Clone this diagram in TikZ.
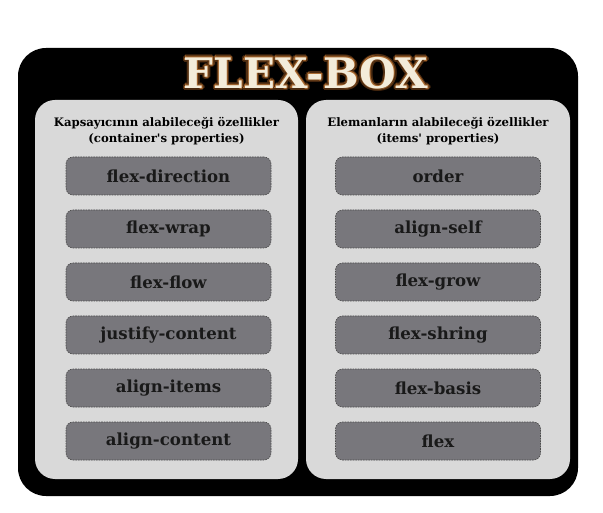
\documentclass[tikz,border=0pt]{standalone}
\usepackage{fontspec}
\setmainfont{DejaVu Serif}
\usetikzlibrary{positioning}

\definecolor{panelgray}{HTML}{D9D9D9}
\definecolor{itemgray}{HTML}{78777C}
\definecolor{titlecream}{HTML}{F3ECDA}
\definecolor{titlebrown}{HTML}{A8682E}
\definecolor{titledark}{HTML}{4A2A10}

\tikzset{
    panel/.style={fill=panelgray, rounded corners=20pt},
    propbox/.style={draw=black!70, line width=0.6pt, dash pattern=on 1.6pt off 1pt,
        fill=itemgray, rounded corners=7pt, minimum width=205pt, minimum height=38pt,
        font=\fontsize{16.6}{18}\selectfont\bfseries, text=black!90},
    heading/.style={font=\fontsize{11.7}{16}\selectfont\bfseries, align=center},
    titletext/.style={font=\fontsize{42}{44}\selectfont\bfseries}
}

\begin{document}
\begin{tikzpicture}[x=1pt,y=-1pt]
            \useasboundingbox (0,0) rectangle (603,513);
            \fill[black, rounded corners=28pt] (18,48) rectangle (578,496);

            % title with outline
            \foreach \a in {0,30,...,330}{
                \node[titletext, text=titledark] (titleout\a) at ([shift={(\a:2.4)}]306,73) {FLEX-BOX};
                \node[titletext, text=titlebrown] (titlein\a) at ([shift={(\a:1.3)}]306,73) {FLEX-BOX};
            }
            \node[titletext, text=titlecream] (title) at (306,73) {FLEX-BOX};

            % the two panels
            \fill[panel] (35,100) rectangle (298,479);
            \fill[panel] (306,100) rectangle (570,479);

            \node[heading] (conthead) at (166.5,131) {Kapsayıcının alabileceği özellikler\\(container\textquotesingle s properties)};
            \node[heading] (itemhead) at (438,131) {Elemanların alabileceği özellikler\\(items\textquotesingle\ properties)};

            \foreach \name [count=\i] in {flex-direction, flex-wrap, flex-flow,
                justify-content, align-items, align-content}{
                \node[propbox] (cont\i) at (168.5, {176+53*(\i-1)}) {\name};
            }

            \foreach \name [count=\i] in {order, align-self, flex-grow,
                flex-shring, flex-basis, flex}{
                \node[propbox] (item\i) at (438, {176+53*(\i-1)}) {\name};
            }
        \end{tikzpicture}
\end{document}
